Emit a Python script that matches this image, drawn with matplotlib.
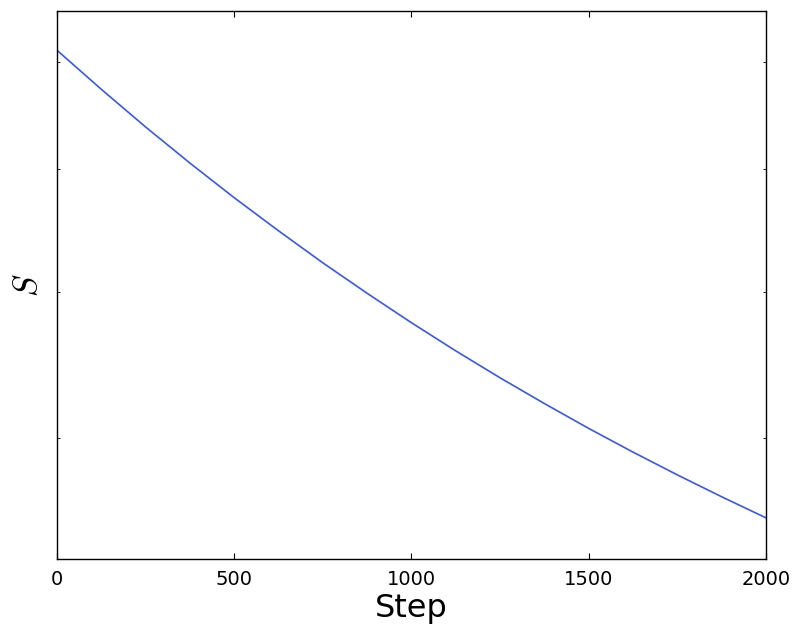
import numpy as np
import matplotlib
matplotlib.use('Agg')
import matplotlib.pyplot as plt
from matplotlib.ticker import NullFormatter, FixedLocator

steps = [0, 125, 250, 375, 500, 625, 750, 875, 1000,
         1125, 1250, 1375, 1500, 1625, 1750, 1875, 2000]
S = [8.124, 7.736, 7.379, 7.053, 6.753, 6.479, 6.224, 5.991, 5.774,
     5.574, 5.389, 5.218, 5.058, 4.910, 4.772, 4.643, 4.522]
xticks = [0, 500, 1000, 1500, 2000]
yminor = [5, 6, 7, 8]

plt.rcParams['mathtext.fontset'] = 'cm'
fig = plt.figure(figsize=(8, 6.35), dpi=100)
ax = fig.add_axes([0.071, 0.12, 0.8865, 0.8625])

ax.plot(steps, S, color='#3a58e8', lw=1.2)
ax.set_yscale('log')
ax.set_xlim(0, 2000)
ax.set_ylim(min(S) * 0.95, max(S) * 1.05)

ax.set_xticks(xticks)
ax.yaxis.set_major_locator(FixedLocator([]))
ax.yaxis.set_minor_locator(FixedLocator(yminor))
ax.yaxis.set_major_formatter(NullFormatter())
ax.yaxis.set_minor_formatter(NullFormatter())

ax.tick_params(axis='both', which='both', direction='in', top=True, right=True)
ax.tick_params(axis='x', which='major', length=4, labelsize=14, pad=8)
ax.tick_params(axis='y', which='minor', length=2)
for sp in ax.spines.values():
    sp.set_linewidth(1.0)

ax.set_xlabel('Step', fontsize=23, labelpad=3)
ax.set_ylabel('$S$', fontsize=24, labelpad=6)

fig.savefig('out.png', dpi=100)
